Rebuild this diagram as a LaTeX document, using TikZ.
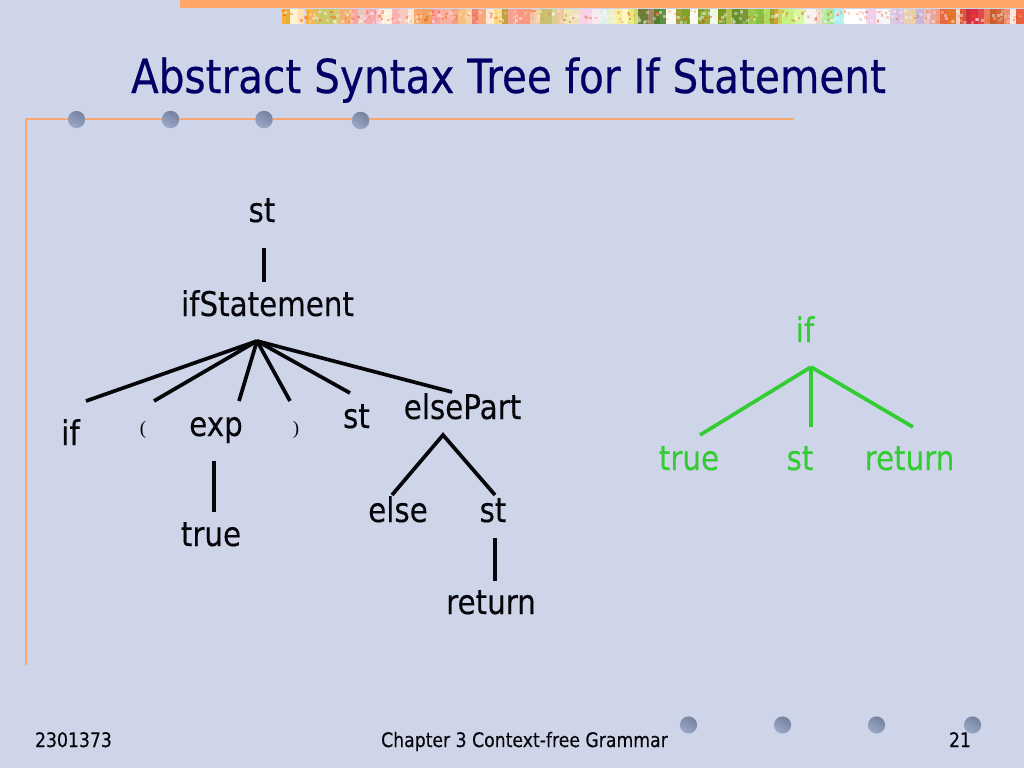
\documentclass[tikz,border=0pt]{standalone}
\usepackage{fontspec}
\setmainfont[FakeStretch=0.863,FakeBold=0.25]{DejaVu Sans}
\newfontfamily\serifish{Liberation Serif}
\definecolor{bg}{HTML}{CED5E8}
\definecolor{navy}{HTML}{000066}
\definecolor{ink}{HTML}{05050A}
\definecolor{grn}{HTML}{33CC33}
\definecolor{rule}{HTML}{F8A870}
\definecolor{bar}{HTML}{FFA565}
\definecolor{balld}{HTML}{74829F}
\definecolor{balll}{HTML}{9CA8C8}
\tikzset{
  x=1pt,y=-1pt,
  lab/.style={anchor=base,inner sep=0pt,outer sep=0pt,text=ink,font=\fontsize{34}{34}\selectfont},
  glab/.style={lab,text=grn},
  paren/.style={anchor=base,inner sep=0pt,text=ink,font=\serifish\fontsize{19}{19}\selectfont},
  foot/.style={anchor=base,inner sep=0pt,text=ink,font=\fontsize{20}{20}\selectfont},
  tree/.style={draw=ink,line width=3.7pt},
  gtree/.style={draw=grn,line width=3.7pt},
  ball/.style={left color=balld,right color=balll,shading angle=-30}
}
\begin{document}
\begin{tikzpicture}
\useasboundingbox (0,0) rectangle (1024,768);
\fill[bg] (0,0) rectangle (1024,768);
\fill[bar] (180,0) rectangle (1024,8.5);
% banner
\foreach \x/\w/\c in {282/4/F8B040,286/4/E8B030,290/8/FFF0D0,298/6/FFE0B0,306/8/F8B050,314/6/D8C060,320/14/C8C868,334/6/D8C878,340/12/F0B070,352/6/F8A8A0,358/8/E8C8C0,366/10/F8A8B0,376/6/F8C8D0,382/10/FFF0E0,392/8/F8B0B0,400/8/F8C8C0,408/6/F8E8D0,414/8/F8A868,422/10/F0A060,432/8/F8A0A0,440/12/F8B0A0,452/6/F0A088,458/8/F8C080,466/6/F8D0A0,472/6/F08070,478/8/F8A880,486/8/FFE8D0,494/8/F8D880,502/6/C0A040,508/10/F8A090,518/12/F89880,530/4/F0C0A0,534/6/F4D0A8,540/12/C8C070,552/6/D8D090,558/6/F0C8A0,564/8/E8E8B0,572/8/F0E0C0,580/12/F8D0E8,592/8/F8E8F0,600/8/E0F0E8,608/6/E8F0D0,614/8/F8F0A0,622/6/FFF8C0,628/6/E8E880,634/4/D0D860,638/10/688038,648/6/A08868,654/6/508030,660/6/609040,666/10/F8FAF0,676/6/A0A040,682/8/80A028,690/8/FAFAF0,698/6/80A030,704/6/90B040,710/8/F0F8E0,718/8/7A9828,726/6/B0C050,732/8/68902A,740/8/789838,748/8/A0C850,756/8/88C040,764/6/B0D860,770/4/90A838,774/4/D0A030,778/4/C8D060,782/12/C8F080,794/10/D8F8A0,804/6/F4F8E8,810/6/F8F0F0,816/6/E8D8D0,822/4/B8E8A0,826/8/A8E890,834/10/B0F0F0,844/14/FFFFFF,858/8/FCFCFC,866/10/F0D0E8,876/8/F8F0F8,884/6/F0F8F8,890/6/D8C8E0,896/8/D8C0E0,904/8/E8D0B0,912/4/E8D0A0,916/8/C8B8D8,924/6/E8C0C8,930/6/E8A8A0,936/4/F0A080,940/8/E86840,948/8/E07830,956/4/F8D0C0,960/6/D85838,966/4/C83040,970/8/D83040,978/6/E04850,984/6/E88060,990/6/C06030,996/8/D06838,1004/6/F09070,1010/6/FFE8E0,1016/8/E86040}
  {\definecolor{stripc}{HTML}{\c}\fill[fill=stripc] (\x,9) rectangle ++(\w,15);}
% banner mottling
\pgfmathsetseed{2301}
\foreach \i in {1,...,420} {
  \pgfmathsetmacro{\sx}{282+rnd*738}
  \pgfmathsetmacro{\sy}{9+rnd*12}
  \pgfmathsetmacro{\so}{0.18+rnd*0.3}
  \pgfmathparse{rnd<0.6?1:0}
  \ifnum\pgfmathresult=1\relax
    \fill[white,opacity=\so] (\sx,\sy) rectangle ++(3,3);
  \else
    \fill[orange!60!red,opacity=\so] (\sx,\sy) rectangle ++(2.5,2.5);
  \fi
}
% balls
\foreach \n/\x/\y in {a/76.5/119.5,b/170.5/119.5,c/264/119.5,d/360.5/120.5,e/688.5/725,f/782.5/725,g/876.5/725,h/972.5/725}
  {\shade[ball] (\x,\y) circle (8.6);}
% frame
\fill[rule] (85,118.2) rectangle (794,120);
\fill[rule] (25,118.2) rectangle (68,120);
\fill[rule] (25,118.2) rectangle (26.8,665);
\foreach \n/\x/\y in {b/170.5/119.5,c/264/119.5,d/360.5/120.5}
  {\shade[ball] (\x,\y) circle (8.6);}
% title
\node[anchor=base,inner sep=0pt,text=navy,font=\fontsize{47}{47}\selectfont] (title) at (508.5,93) {Abstract Syntax Tree for If Statement};
% left tree
\node[lab] (st1) at (262,222) {st};
\node[lab] (ifs) at (267.5,316) {ifStatement};
\node[lab] (ifk) at (70.5,445) {if};
\node[paren] (lp) at (143,434) {(};
\node[lab] (exp) at (216,436) {exp};
\node[paren] (rp) at (296,434) {)};
\node[lab] (st2) at (356.5,428) {st};
\node[lab] (ep) at (462.5,419) {elsePart};
\node[lab] (tr) at (211,546) {true};
\node[lab] (el) at (398,522) {else};
\node[lab] (st3) at (493,522) {st};
\node[lab] (ret) at (491,614) {return};
% right tree
\node[glab] (gif) at (805,342) {if};
\node[glab] (gtr) at (689,470) {true};
\node[glab] (gst) at (800,470) {st};
\node[glab] (gret) at (909.5,470) {return};
% footer
\node[foot] (f1) at (73.5,747) {2301373};
\node[foot] (f2) at (524.5,747) {Chapter 3 Context-free Grammar};
\node[foot] (f3) at (960,747) {21};
% connector ends
\coordinate (a1) at (264,248); \coordinate (a2) at (264,282);
\coordinate (hub) at (257,341);
\coordinate (c1) at (86,401); \coordinate (c2) at (154,401);
\coordinate (c3) at (239,401); \coordinate (c4) at (290,401);
\coordinate (c5) at (350,393); \coordinate (c6) at (452,392);
\coordinate (e1) at (214,461); \coordinate (e2) at (214,512);
\coordinate (p) at (443,435); \coordinate (p1) at (392,495); \coordinate (p2) at (495,495);
\coordinate (s1) at (495,538); \coordinate (s2) at (495,581);
\coordinate (g) at (811,367); \coordinate (g1) at (700,435); \coordinate (g2) at (811,427); \coordinate (g3) at (913,427);
\draw[tree] (a1) -- (a2);
\foreach \t in {c1,c2,c3,c4,c5,c6} {\draw[tree] (hub) -- (\t);}
\draw[tree] (e1) -- (e2);
\draw[tree] (p1) -- (p) -- (p2);
\draw[tree] (s1) -- (s2);
\foreach \t in {g1,g2,g3} {\draw[gtree] (g) -- (\t);}
\end{tikzpicture}
\end{document}
